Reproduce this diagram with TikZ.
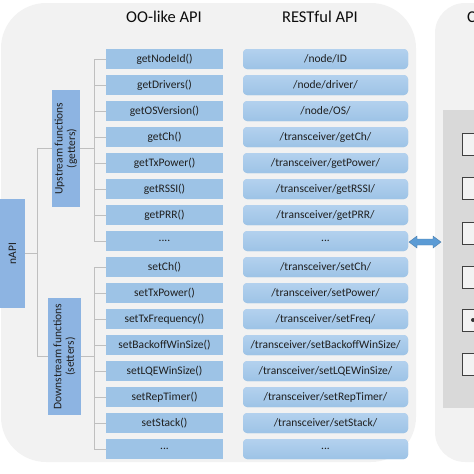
\documentclass[tikz,border=0pt]{standalone}
\usepackage{fontspec}
\setmainfont{Carlito}
\definecolor{panelgray}{HTML}{F2F2F2}
\definecolor{slotgray}{HTML}{D9D9D9}
\definecolor{boxblue}{HTML}{9DC3E6}
\definecolor{restlight}{HTML}{B3D1EE}
\definecolor{grpblue}{HTML}{8DB4E2}
\definecolor{arrowblue}{HTML}{5B9BD5}
\definecolor{wiregray}{HTML}{BFBFBF}
\definecolor{txtgray}{HTML}{1F1F1F}

\begin{document}
\begin{tikzpicture}[x={(1pt,0pt)}, y={(0pt,-1pt)}]
  \tikzstyle{oo}=[fill=boxblue, minimum width=117pt, minimum height=20pt,
    inner sep=0pt, text=txtgray, font=\fontsize{11.5}{13}\selectfont]
  \tikzstyle{rest}=[oo, minimum width=165pt, rounded corners=4pt,
    top color=restlight, bottom color=boxblue]
  \tikzstyle{grp}=[fill=grpblue, inner sep=0pt, rotate=90, align=center,
    text=txtgray, font=\fontsize{11.5}{12.5}\selectfont]
  \tikzstyle{title}=[font=\fontsize{16.5}{18}\selectfont, text=black!95]
  \tikzstyle{wire}=[wiregray, line width=0.8pt]
  \tikzstyle{slot}=[draw=black!75, fill=panelgray, line width=0.8pt]
  \tikzstyle{link}=[fill=arrowblue, draw=arrowblue!80!black, line width=0.4pt,
    line join=miter]
  \clip (0,0) rectangle (474,474);

  % panels
  \fill[panelgray, rounded corners=45pt] (1,3) rectangle (416,462);
  \fill[panelgray, rounded corners=30pt] (435,3) rectangle (570,462);
  \fill[slotgray] (443,110) rectangle (490,408);

  % titles
  \node[title] (ootitle) at (164,17) {OO-like API};
  \node[title] (resttitle) at (320,17) {RESTful API};
  \node[title, anchor=west, inner sep=0pt] (ostitle) at (467,17) {C};

  % groups
  \node[grp, minimum width=109pt, minimum height=25pt] (napi) at (12.5,253.5) {nAPI};
  \node[grp, minimum width=117pt, minimum height=28pt] (up) at (66,148.5)
    {Upstream functions\\(getters)};
  \node[grp, minimum width=117pt, minimum height=33pt] (down) at (64.5,356.5)
    {Downstream functions\\(setters)};

  % OO-like functions
  \node[oo] (oo1) at (164.5,59) {getNodeId()};
  \node[oo] (oo2) at (164.5,85) {getDrivers()};
  \node[oo] (oo3) at (164.5,111) {getOSVersion()};
  \node[oo] (oo4) at (164.5,137) {getCh()};
  \node[oo] (oo5) at (164.5,163) {getTxPower()};
  \node[oo] (oo6) at (164.5,189) {getRSSI()};
  \node[oo] (oo7) at (164.5,215) {getPRR()};
  \node[oo] (oo8) at (164.5,241) {....};
  \node[oo] (oo9) at (164.5,267) {setCh()};
  \node[oo] (oo10) at (164.5,293) {setTxPower()};
  \node[oo] (oo11) at (164.5,319) {setTxFrequency()};
  \node[oo] (oo12) at (164.5,345) {setBackoffWinSize()};
  \node[oo] (oo13) at (164.5,371) {setLQEWinSize()};
  \node[oo] (oo14) at (164.5,397) {setRepTimer()};
  \node[oo] (oo15) at (164.5,423) {setStack()};
  \node[oo] (oo16) at (164.5,449) {...};

  % RESTful resources
  \node[rest] (rest1) at (325.5,59) {/node/ID};
  \node[rest] (rest2) at (325.5,85) {/node/driver/};
  \node[rest] (rest3) at (325.5,111) {/node/OS/};
  \node[rest] (rest4) at (325.5,137) {/transceiver/getCh/};
  \node[rest] (rest5) at (325.5,163) {/transceiver/getPower/};
  \node[rest] (rest6) at (325.5,189) {/transceiver/getRSSI/};
  \node[rest] (rest7) at (325.5,215) {/transceiver/getPRR/};
  \node[rest] (rest8) at (325.5,241) {...};
  \node[rest] (rest9) at (325.5,267) {/transceiver/setCh/};
  \node[rest] (rest10) at (325.5,293) {/transceiver/setPower/};
  \node[rest] (rest11) at (325.5,319) {/transceiver/setFreq/};
  \node[rest] (rest12) at (325.5,345) {/transceiver/setBackoffWinSize/};
  \node[rest] (rest13) at (325.5,371) {/transceiver/setLQEWinSize/};
  \node[rest] (rest14) at (325.5,397) {/transceiver/setRepTimer/};
  \node[rest] (rest15) at (325.5,423) {/transceiver/setStack/};
  \node[rest] (rest16) at (325.5,449) {...};

  % tree wires
  \coordinate (nbus) at (37,253.5);
  \coordinate (ubus) at (94,148.5);
  \coordinate (dbus) at (94,356.5);
  \draw[wire] (napi.south) -- (nbus)
    (up.north) -| (nbus)
    (down.north) -| (nbus);
  \draw[wire] (up.south) -- (ubus)
    (oo1.west) -| (ubus) (oo2.west) -| (ubus) (oo3.west) -| (ubus)
    (oo4.west) -| (ubus) (oo5.west) -| (ubus) (oo6.west) -| (ubus)
    (oo7.west) -| (ubus) (oo8.west) -| (ubus);
  \draw[wire] (down.south) -- (dbus)
    (oo9.west) -| (dbus) (oo10.west) -| (dbus) (oo11.west) -| (dbus)
    (oo12.west) -| (dbus) (oo13.west) -| (dbus) (oo14.west) -| (dbus)
    (oo15.west) -| (dbus) (oo16.west) -| (dbus);

  % link to the right panel
  \draw[link] (409,242) -- (417,236) -- (417,239) -- (433,239) -- (433,236)
    -- (441,242) -- (433,248) -- (433,245) -- (417,245) -- (417,248) -- cycle;

  % slots
  \draw[slot] (462,133) rectangle (490,155);
  \draw[slot] (462,177) rectangle (490,199);
  \draw[slot] (462,222) rectangle (490,244);
  \draw[slot] (462,266) rectangle (490,288);
  \draw[slot] (462,309) rectangle (490,331);
  \draw[slot] (462,353) rectangle (490,375);
  \fill[black!80] (473,320) circle (2);
\end{tikzpicture}
\end{document}
